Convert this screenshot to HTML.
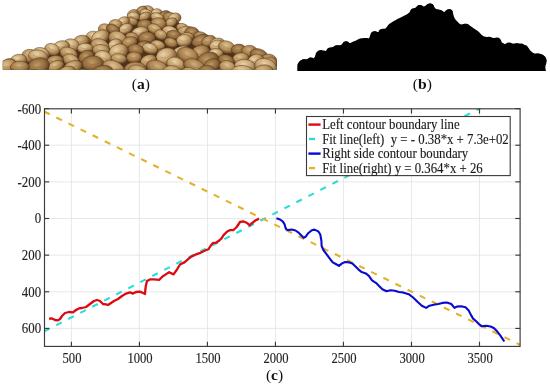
<!DOCTYPE html>
<html><head><meta charset="utf-8"><title>Walnut pile contour</title>
<style>html,body{margin:0;padding:0;background:#fff;width:550px;height:387px;overflow:hidden}svg{display:block}</style>
</head><body>
<svg width="550" height="387" viewBox="0 0 550 387">
<defs>
<clipPath id="wclip"><rect x="2.5" y="0" width="274.5" height="69.8"/></clipPath>
<radialGradient id="wn" cx="0.42" cy="0.34" r="0.66"><stop offset="0" stop-color="#dcc190"/><stop offset="0.55" stop-color="#b8915c"/><stop offset="1" stop-color="#664624"/></radialGradient>
<radialGradient id="wn2" cx="0.45" cy="0.36" r="0.66"><stop offset="0" stop-color="#cfae7c"/><stop offset="0.55" stop-color="#a87f4c"/><stop offset="1" stop-color="#57391c"/></radialGradient>
<radialGradient id="wn4" cx="0.45" cy="0.4" r="0.66"><stop offset="0" stop-color="#bf9a66"/><stop offset="0.55" stop-color="#946c3e"/><stop offset="1" stop-color="#4a3016"/></radialGradient>
<radialGradient id="wn3" cx="0.4" cy="0.32" r="0.66"><stop offset="0" stop-color="#e8d2a6"/><stop offset="0.55" stop-color="#c6a26e"/><stop offset="1" stop-color="#76542e"/></radialGradient>
</defs>
<g clip-path="url(#wclip)">
<polygon points="2.5,72.5 3.0,65.5 7.0,63.0 12.7,61.5 18.0,58.0 23.6,55.2 30.0,53.0 38.2,51.5 47.3,49.8 54.5,45.8 62.0,44.0 70.9,42.5 78.0,40.0 85.5,37.0 94.5,34.3 100.9,29.8 107.0,26.0 113.6,23.4 124.5,19.8 130.0,14.3 139.1,9.8 148.2,8.9 153.6,10.7 162.7,14.3 170.0,13.4 175.5,17.0 180.9,26.1 189.1,28.9 198.2,33.4 205.5,38.0 214.5,40.7 223.6,42.5 232.7,48.0 241.8,47.0 254.5,49.8 265.5,56.1 272.7,58.9 276.4,65.2 276.6,72.5" fill="#4e321c"/>
<g transform="translate(147.9 10.3) rotate(10)"><ellipse rx="6.0" ry="4.6" fill="url(#wn)" stroke="#4a2f18" stroke-opacity="0.6" stroke-width="0.7"/><path d="M-3.3,-0.7 Q-0.6,1.6 3.0,-0.2" fill="none" stroke="#7a5430" stroke-opacity="0.35" stroke-width="0.6"/></g>
<g transform="translate(141.6 10.4) rotate(-24)"><ellipse rx="5.7" ry="4.0" fill="url(#wn2)" stroke="#4a2f18" stroke-opacity="0.6" stroke-width="0.7"/><path d="M-3.2,-0.6 Q-0.6,1.4 2.9,-0.2" fill="none" stroke="#7a5430" stroke-opacity="0.35" stroke-width="0.6"/></g>
<g transform="translate(156.6 12.9) rotate(-7)"><ellipse rx="5.6" ry="4.2" fill="url(#wn3)" stroke="#4a2f18" stroke-opacity="0.6" stroke-width="0.7"/><path d="M-3.1,-0.6 Q-0.6,1.5 2.8,-0.2" fill="none" stroke="#7a5430" stroke-opacity="0.35" stroke-width="0.6"/></g>
<g transform="translate(132.9 13.7) rotate(-20)"><ellipse rx="5.7" ry="3.9" fill="url(#wn)" stroke="#4a2f18" stroke-opacity="0.6" stroke-width="0.7"/><path d="M-3.1,-0.6 Q-0.6,1.4 2.9,-0.2" fill="none" stroke="#7a5430" stroke-opacity="0.35" stroke-width="0.6"/></g>
<g transform="translate(146.1 13.9) rotate(21)"><ellipse rx="6.5" ry="4.7" fill="url(#wn3)" stroke="#4a2f18" stroke-opacity="0.6" stroke-width="0.7"/><path d="M-3.6,-0.7 Q-0.6,1.6 3.2,-0.2" fill="none" stroke="#7a5430" stroke-opacity="0.35" stroke-width="0.6"/></g>
<g transform="translate(164.8 15.9) rotate(-22)"><ellipse rx="6.5" ry="5.1" fill="url(#wn4)" stroke="#4a2f18" stroke-opacity="0.6" stroke-width="0.7"/><path d="M-3.6,-0.8 Q-0.6,1.8 3.2,-0.3" fill="none" stroke="#7a5430" stroke-opacity="0.35" stroke-width="0.6"/></g>
<g transform="translate(144.7 16.4) rotate(-24)"><ellipse rx="6.4" ry="4.0" fill="url(#wn)" stroke="#4a2f18" stroke-opacity="0.6" stroke-width="0.7"/><path d="M-3.5,-0.6 Q-0.6,1.4 3.2,-0.2" fill="none" stroke="#7a5430" stroke-opacity="0.35" stroke-width="0.6"/></g>
<g transform="translate(133.4 16.6) rotate(0)"><ellipse rx="6.3" ry="4.7" fill="url(#wn3)" stroke="#4a2f18" stroke-opacity="0.6" stroke-width="0.7"/><path d="M-3.4,-0.7 Q-0.6,1.7 3.1,-0.2" fill="none" stroke="#7a5430" stroke-opacity="0.35" stroke-width="0.6"/></g>
<g transform="translate(157.4 17.7) rotate(22)"><ellipse rx="7.0" ry="4.6" fill="url(#wn3)" stroke="#4a2f18" stroke-opacity="0.6" stroke-width="0.7"/><path d="M-3.8,-0.7 Q-0.7,1.6 3.5,-0.2" fill="none" stroke="#7a5430" stroke-opacity="0.35" stroke-width="0.6"/></g>
<g transform="translate(170.5 17.9) rotate(17)"><ellipse rx="7.7" ry="5.4" fill="url(#wn2)" stroke="#4a2f18" stroke-opacity="0.6" stroke-width="0.7"/><path d="M-4.3,-0.8 Q-0.8,1.9 3.9,-0.3" fill="none" stroke="#7a5430" stroke-opacity="0.35" stroke-width="0.6"/></g>
<g transform="translate(174.5 18.4) rotate(-20)"><ellipse rx="6.7" ry="5.3" fill="url(#wn3)" stroke="#4a2f18" stroke-opacity="0.6" stroke-width="0.7"/><path d="M-3.7,-0.8 Q-0.7,1.9 3.4,-0.3" fill="none" stroke="#7a5430" stroke-opacity="0.35" stroke-width="0.6"/></g>
<g transform="translate(131.8 21.4) rotate(17)"><ellipse rx="6.1" ry="4.2" fill="url(#wn2)" stroke="#4a2f18" stroke-opacity="0.6" stroke-width="0.7"/><path d="M-3.3,-0.6 Q-0.6,1.5 3.0,-0.2" fill="none" stroke="#7a5430" stroke-opacity="0.35" stroke-width="0.6"/></g>
<g transform="translate(123.5 21.6) rotate(-21)"><ellipse rx="6.2" ry="4.7" fill="url(#wn3)" stroke="#4a2f18" stroke-opacity="0.6" stroke-width="0.7"/><path d="M-3.4,-0.7 Q-0.6,1.6 3.1,-0.2" fill="none" stroke="#7a5430" stroke-opacity="0.35" stroke-width="0.6"/></g>
<g transform="translate(171.4 22.3) rotate(-21)"><ellipse rx="5.9" ry="4.4" fill="url(#wn)" stroke="#4a2f18" stroke-opacity="0.6" stroke-width="0.7"/><path d="M-3.2,-0.7 Q-0.6,1.5 2.9,-0.2" fill="none" stroke="#7a5430" stroke-opacity="0.35" stroke-width="0.6"/></g>
<g transform="translate(158.4 23.8) rotate(2)"><ellipse rx="8.1" ry="6.1" fill="url(#wn2)" stroke="#4a2f18" stroke-opacity="0.6" stroke-width="0.7"/><path d="M-4.5,-0.9 Q-0.8,2.1 4.0,-0.3" fill="none" stroke="#7a5430" stroke-opacity="0.35" stroke-width="0.6"/></g>
<g transform="translate(115.5 24.6) rotate(4)"><ellipse rx="6.6" ry="5.1" fill="url(#wn)" stroke="#4a2f18" stroke-opacity="0.6" stroke-width="0.7"/><path d="M-3.6,-0.8 Q-0.7,1.8 3.3,-0.3" fill="none" stroke="#7a5430" stroke-opacity="0.35" stroke-width="0.6"/></g>
<g transform="translate(144.6 24.9) rotate(-1)"><ellipse rx="7.6" ry="5.6" fill="url(#wn4)" stroke="#4a2f18" stroke-opacity="0.6" stroke-width="0.7"/><path d="M-4.2,-0.8 Q-0.8,1.9 3.8,-0.3" fill="none" stroke="#7a5430" stroke-opacity="0.35" stroke-width="0.6"/></g>
<g transform="translate(182.5 27.9) rotate(17)"><ellipse rx="6.4" ry="4.4" fill="url(#wn)" stroke="#4a2f18" stroke-opacity="0.6" stroke-width="0.7"/><path d="M-3.5,-0.7 Q-0.6,1.5 3.2,-0.2" fill="none" stroke="#7a5430" stroke-opacity="0.35" stroke-width="0.6"/></g>
<g transform="translate(125.9 28.6) rotate(-23)"><ellipse rx="7.1" ry="5.0" fill="url(#wn3)" stroke="#4a2f18" stroke-opacity="0.6" stroke-width="0.7"/><path d="M-3.9,-0.7 Q-0.7,1.7 3.6,-0.2" fill="none" stroke="#7a5430" stroke-opacity="0.35" stroke-width="0.6"/></g>
<g transform="translate(105.2 29.2) rotate(10)"><ellipse rx="6.9" ry="5.4" fill="url(#wn)" stroke="#4a2f18" stroke-opacity="0.6" stroke-width="0.7"/><path d="M-3.8,-0.8 Q-0.7,1.9 3.4,-0.3" fill="none" stroke="#7a5430" stroke-opacity="0.35" stroke-width="0.6"/></g>
<g transform="translate(154.6 29.2) rotate(23)"><ellipse rx="7.6" ry="5.0" fill="url(#wn)" stroke="#4a2f18" stroke-opacity="0.6" stroke-width="0.7"/><path d="M-4.2,-0.7 Q-0.8,1.7 3.8,-0.2" fill="none" stroke="#7a5430" stroke-opacity="0.35" stroke-width="0.6"/></g>
<g transform="translate(112.8 29.3) rotate(25)"><ellipse rx="6.9" ry="4.7" fill="url(#wn4)" stroke="#4a2f18" stroke-opacity="0.6" stroke-width="0.7"/><path d="M-3.8,-0.7 Q-0.7,1.7 3.5,-0.2" fill="none" stroke="#7a5430" stroke-opacity="0.35" stroke-width="0.6"/></g>
<g transform="translate(185.9 31.4) rotate(-2)"><ellipse rx="8.3" ry="5.2" fill="url(#wn)" stroke="#4a2f18" stroke-opacity="0.6" stroke-width="0.7"/><path d="M-4.6,-0.8 Q-0.8,1.8 4.1,-0.3" fill="none" stroke="#7a5430" stroke-opacity="0.35" stroke-width="0.6"/></g>
<g transform="translate(170.3 32.5) rotate(22)"><ellipse rx="8.6" ry="6.3" fill="url(#wn3)" stroke="#4a2f18" stroke-opacity="0.6" stroke-width="0.7"/><path d="M-4.7,-0.9 Q-0.9,2.2 4.3,-0.3" fill="none" stroke="#7a5430" stroke-opacity="0.35" stroke-width="0.6"/></g>
<g transform="translate(191.9 32.6) rotate(7)"><ellipse rx="7.3" ry="5.7" fill="url(#wn4)" stroke="#4a2f18" stroke-opacity="0.6" stroke-width="0.7"/><path d="M-4.0,-0.8 Q-0.7,2.0 3.6,-0.3" fill="none" stroke="#7a5430" stroke-opacity="0.35" stroke-width="0.6"/></g>
<g transform="translate(140.1 32.6) rotate(-13)"><ellipse rx="8.7" ry="5.8" fill="url(#wn3)" stroke="#4a2f18" stroke-opacity="0.6" stroke-width="0.7"/><path d="M-4.8,-0.9 Q-0.9,2.0 4.3,-0.3" fill="none" stroke="#7a5430" stroke-opacity="0.35" stroke-width="0.6"/></g>
<g transform="translate(160.8 34.9) rotate(21)"><ellipse rx="6.4" ry="4.9" fill="url(#wn)" stroke="#4a2f18" stroke-opacity="0.6" stroke-width="0.7"/><path d="M-3.5,-0.7 Q-0.6,1.7 3.2,-0.2" fill="none" stroke="#7a5430" stroke-opacity="0.35" stroke-width="0.6"/></g>
<g transform="translate(173.8 35.0) rotate(7)"><ellipse rx="7.3" ry="4.7" fill="url(#wn4)" stroke="#4a2f18" stroke-opacity="0.6" stroke-width="0.7"/><path d="M-4.0,-0.7 Q-0.7,1.7 3.7,-0.2" fill="none" stroke="#7a5430" stroke-opacity="0.35" stroke-width="0.6"/></g>
<g transform="translate(200.7 36.5) rotate(13)"><ellipse rx="6.9" ry="4.7" fill="url(#wn2)" stroke="#4a2f18" stroke-opacity="0.6" stroke-width="0.7"/><path d="M-3.8,-0.7 Q-0.7,1.7 3.4,-0.2" fill="none" stroke="#7a5430" stroke-opacity="0.35" stroke-width="0.6"/></g>
<g transform="translate(131.9 36.7) rotate(9)"><ellipse rx="6.7" ry="4.3" fill="url(#wn2)" stroke="#4a2f18" stroke-opacity="0.6" stroke-width="0.7"/><path d="M-3.7,-0.6 Q-0.7,1.5 3.3,-0.2" fill="none" stroke="#7a5430" stroke-opacity="0.35" stroke-width="0.6"/></g>
<g transform="translate(187.1 36.7) rotate(4)"><ellipse rx="6.7" ry="4.2" fill="url(#wn)" stroke="#4a2f18" stroke-opacity="0.6" stroke-width="0.7"/><path d="M-3.7,-0.6 Q-0.7,1.5 3.3,-0.2" fill="none" stroke="#7a5430" stroke-opacity="0.35" stroke-width="0.6"/></g>
<g transform="translate(93.6 36.9) rotate(8)"><ellipse rx="7.5" ry="5.7" fill="url(#wn3)" stroke="#4a2f18" stroke-opacity="0.6" stroke-width="0.7"/><path d="M-4.1,-0.9 Q-0.8,2.0 3.8,-0.3" fill="none" stroke="#7a5430" stroke-opacity="0.35" stroke-width="0.6"/></g>
<g transform="translate(100.5 37.0) rotate(-25)"><ellipse rx="9.3" ry="6.6" fill="url(#wn3)" stroke="#4a2f18" stroke-opacity="0.6" stroke-width="0.7"/><path d="M-5.1,-1.0 Q-0.9,2.3 4.7,-0.3" fill="none" stroke="#7a5430" stroke-opacity="0.35" stroke-width="0.6"/></g>
<g transform="translate(146.9 38.1) rotate(-2)"><ellipse rx="8.7" ry="6.4" fill="url(#wn4)" stroke="#4a2f18" stroke-opacity="0.6" stroke-width="0.7"/><path d="M-4.8,-1.0 Q-0.9,2.3 4.4,-0.3" fill="none" stroke="#7a5430" stroke-opacity="0.35" stroke-width="0.6"/></g>
<g transform="translate(117.6 38.7) rotate(24)"><ellipse rx="9.4" ry="7.3" fill="url(#wn)" stroke="#4a2f18" stroke-opacity="0.6" stroke-width="0.7"/><path d="M-5.2,-1.1 Q-0.9,2.5 4.7,-0.4" fill="none" stroke="#7a5430" stroke-opacity="0.35" stroke-width="0.6"/></g>
<g transform="translate(184.2 40.6) rotate(-4)"><ellipse rx="7.9" ry="6.2" fill="url(#wn3)" stroke="#4a2f18" stroke-opacity="0.6" stroke-width="0.7"/><path d="M-4.4,-0.9 Q-0.8,2.2 4.0,-0.3" fill="none" stroke="#7a5430" stroke-opacity="0.35" stroke-width="0.6"/></g>
<g transform="translate(200.8 40.6) rotate(-22)"><ellipse rx="9.4" ry="5.9" fill="url(#wn4)" stroke="#4a2f18" stroke-opacity="0.6" stroke-width="0.7"/><path d="M-5.2,-0.9 Q-0.9,2.1 4.7,-0.3" fill="none" stroke="#7a5430" stroke-opacity="0.35" stroke-width="0.6"/></g>
<g transform="translate(83.4 40.8) rotate(-5)"><ellipse rx="7.2" ry="4.5" fill="url(#wn)" stroke="#4a2f18" stroke-opacity="0.6" stroke-width="0.7"/><path d="M-3.9,-0.7 Q-0.7,1.6 3.6,-0.2" fill="none" stroke="#7a5430" stroke-opacity="0.35" stroke-width="0.6"/></g>
<g transform="translate(208.8 41.1) rotate(-24)"><ellipse rx="7.4" ry="5.4" fill="url(#wn2)" stroke="#4a2f18" stroke-opacity="0.6" stroke-width="0.7"/><path d="M-4.0,-0.8 Q-0.7,1.9 3.7,-0.3" fill="none" stroke="#7a5430" stroke-opacity="0.35" stroke-width="0.6"/></g>
<g transform="translate(81.3 41.1) rotate(-13)"><ellipse rx="8.1" ry="5.8" fill="url(#wn)" stroke="#4a2f18" stroke-opacity="0.6" stroke-width="0.7"/><path d="M-4.4,-0.9 Q-0.8,2.0 4.0,-0.3" fill="none" stroke="#7a5430" stroke-opacity="0.35" stroke-width="0.6"/></g>
<g transform="translate(129.6 42.4) rotate(-17)"><ellipse rx="8.0" ry="5.5" fill="url(#wn2)" stroke="#4a2f18" stroke-opacity="0.6" stroke-width="0.7"/><path d="M-4.4,-0.8 Q-0.8,1.9 4.0,-0.3" fill="none" stroke="#7a5430" stroke-opacity="0.35" stroke-width="0.6"/></g>
<g transform="translate(170.8 42.7) rotate(21)"><ellipse rx="6.8" ry="4.8" fill="url(#wn2)" stroke="#4a2f18" stroke-opacity="0.6" stroke-width="0.7"/><path d="M-3.8,-0.7 Q-0.7,1.7 3.4,-0.2" fill="none" stroke="#7a5430" stroke-opacity="0.35" stroke-width="0.6"/></g>
<g transform="translate(217.7 43.7) rotate(-7)"><ellipse rx="7.4" ry="5.7" fill="url(#wn3)" stroke="#4a2f18" stroke-opacity="0.6" stroke-width="0.7"/><path d="M-4.1,-0.9 Q-0.7,2.0 3.7,-0.3" fill="none" stroke="#7a5430" stroke-opacity="0.35" stroke-width="0.6"/></g>
<g transform="translate(115.1 44.9) rotate(-23)"><ellipse rx="7.3" ry="5.8" fill="url(#wn3)" stroke="#4a2f18" stroke-opacity="0.6" stroke-width="0.7"/><path d="M-4.0,-0.9 Q-0.7,2.0 3.7,-0.3" fill="none" stroke="#7a5430" stroke-opacity="0.35" stroke-width="0.6"/></g>
<g transform="translate(71.3 45.3) rotate(12)"><ellipse rx="8.1" ry="6.4" fill="url(#wn3)" stroke="#4a2f18" stroke-opacity="0.6" stroke-width="0.7"/><path d="M-4.5,-1.0 Q-0.8,2.3 4.1,-0.3" fill="none" stroke="#7a5430" stroke-opacity="0.35" stroke-width="0.6"/></g>
<g transform="translate(157.8 45.3) rotate(16)"><ellipse rx="7.4" ry="5.1" fill="url(#wn)" stroke="#4a2f18" stroke-opacity="0.6" stroke-width="0.7"/><path d="M-4.1,-0.8 Q-0.7,1.8 3.7,-0.3" fill="none" stroke="#7a5430" stroke-opacity="0.35" stroke-width="0.6"/></g>
<g transform="translate(217.1 45.8) rotate(-8)"><ellipse rx="7.6" ry="5.7" fill="url(#wn3)" stroke="#4a2f18" stroke-opacity="0.6" stroke-width="0.7"/><path d="M-4.2,-0.9 Q-0.8,2.0 3.8,-0.3" fill="none" stroke="#7a5430" stroke-opacity="0.35" stroke-width="0.6"/></g>
<g transform="translate(143.2 46.2) rotate(-19)"><ellipse rx="7.6" ry="5.2" fill="url(#wn4)" stroke="#4a2f18" stroke-opacity="0.6" stroke-width="0.7"/><path d="M-4.2,-0.8 Q-0.8,1.8 3.8,-0.3" fill="none" stroke="#7a5430" stroke-opacity="0.35" stroke-width="0.6"/></g>
<g transform="translate(99.8 46.4) rotate(22)"><ellipse rx="9.8" ry="7.4" fill="url(#wn)" stroke="#4a2f18" stroke-opacity="0.6" stroke-width="0.7"/><path d="M-5.4,-1.1 Q-1.0,2.6 4.9,-0.4" fill="none" stroke="#7a5430" stroke-opacity="0.35" stroke-width="0.6"/></g>
<g transform="translate(61.3 46.5) rotate(-12)"><ellipse rx="8.4" ry="5.7" fill="url(#wn3)" stroke="#4a2f18" stroke-opacity="0.6" stroke-width="0.7"/><path d="M-4.6,-0.9 Q-0.8,2.0 4.2,-0.3" fill="none" stroke="#7a5430" stroke-opacity="0.35" stroke-width="0.6"/></g>
<g transform="translate(226.8 47.3) rotate(18)"><ellipse rx="8.5" ry="6.3" fill="url(#wn)" stroke="#4a2f18" stroke-opacity="0.6" stroke-width="0.7"/><path d="M-4.7,-0.9 Q-0.9,2.2 4.3,-0.3" fill="none" stroke="#7a5430" stroke-opacity="0.35" stroke-width="0.6"/></g>
<g transform="translate(85.2 48.3) rotate(-0)"><ellipse rx="8.0" ry="5.1" fill="url(#wn3)" stroke="#4a2f18" stroke-opacity="0.6" stroke-width="0.7"/><path d="M-4.4,-0.8 Q-0.8,1.8 4.0,-0.3" fill="none" stroke="#7a5430" stroke-opacity="0.35" stroke-width="0.6"/></g>
<g transform="translate(150.0 48.6) rotate(19)"><ellipse rx="7.9" ry="5.3" fill="url(#wn3)" stroke="#4a2f18" stroke-opacity="0.6" stroke-width="0.7"/><path d="M-4.4,-0.8 Q-0.8,1.8 4.0,-0.3" fill="none" stroke="#7a5430" stroke-opacity="0.35" stroke-width="0.6"/></g>
<g transform="translate(238.6 49.5) rotate(-3)"><ellipse rx="7.4" ry="5.4" fill="url(#wn4)" stroke="#4a2f18" stroke-opacity="0.6" stroke-width="0.7"/><path d="M-4.1,-0.8 Q-0.7,1.9 3.7,-0.3" fill="none" stroke="#7a5430" stroke-opacity="0.35" stroke-width="0.6"/></g>
<g transform="translate(52.1 49.6) rotate(23)"><ellipse rx="7.7" ry="5.9" fill="url(#wn3)" stroke="#4a2f18" stroke-opacity="0.6" stroke-width="0.7"/><path d="M-4.3,-0.9 Q-0.8,2.1 3.9,-0.3" fill="none" stroke="#7a5430" stroke-opacity="0.35" stroke-width="0.6"/></g>
<g transform="translate(135.7 49.9) rotate(12)"><ellipse rx="8.1" ry="5.9" fill="url(#wn4)" stroke="#4a2f18" stroke-opacity="0.6" stroke-width="0.7"/><path d="M-4.5,-0.9 Q-0.8,2.1 4.1,-0.3" fill="none" stroke="#7a5430" stroke-opacity="0.35" stroke-width="0.6"/></g>
<g transform="translate(101.1 50.2) rotate(6)"><ellipse rx="8.7" ry="5.8" fill="url(#wn)" stroke="#4a2f18" stroke-opacity="0.6" stroke-width="0.7"/><path d="M-4.8,-0.9 Q-0.9,2.0 4.3,-0.3" fill="none" stroke="#7a5430" stroke-opacity="0.35" stroke-width="0.6"/></g>
<g transform="translate(249.4 51.3) rotate(2)"><ellipse rx="7.9" ry="6.1" fill="url(#wn2)" stroke="#4a2f18" stroke-opacity="0.6" stroke-width="0.7"/><path d="M-4.4,-0.9 Q-0.8,2.1 4.0,-0.3" fill="none" stroke="#7a5430" stroke-opacity="0.35" stroke-width="0.6"/></g>
<g transform="translate(118.6 51.7) rotate(-19)"><ellipse rx="9.8" ry="7.6" fill="url(#wn3)" stroke="#4a2f18" stroke-opacity="0.6" stroke-width="0.7"/><path d="M-5.4,-1.1 Q-1.0,2.7 4.9,-0.4" fill="none" stroke="#7a5430" stroke-opacity="0.35" stroke-width="0.6"/></g>
<g transform="translate(200.3 53.2) rotate(-23)"><ellipse rx="10.1" ry="7.8" fill="url(#wn2)" stroke="#4a2f18" stroke-opacity="0.6" stroke-width="0.7"/><path d="M-5.5,-1.2 Q-1.0,2.7 5.0,-0.4" fill="none" stroke="#7a5430" stroke-opacity="0.35" stroke-width="0.6"/></g>
<g transform="translate(215.9 53.5) rotate(4)"><ellipse rx="7.5" ry="4.9" fill="url(#wn3)" stroke="#4a2f18" stroke-opacity="0.6" stroke-width="0.7"/><path d="M-4.1,-0.7 Q-0.7,1.7 3.7,-0.2" fill="none" stroke="#7a5430" stroke-opacity="0.35" stroke-width="0.6"/></g>
<g transform="translate(68.6 53.6) rotate(19)"><ellipse rx="9.1" ry="6.2" fill="url(#wn)" stroke="#4a2f18" stroke-opacity="0.6" stroke-width="0.7"/><path d="M-5.0,-0.9 Q-0.9,2.2 4.5,-0.3" fill="none" stroke="#7a5430" stroke-opacity="0.35" stroke-width="0.6"/></g>
<g transform="translate(181.7 53.6) rotate(-20)"><ellipse rx="10.0" ry="7.4" fill="url(#wn3)" stroke="#4a2f18" stroke-opacity="0.6" stroke-width="0.7"/><path d="M-5.5,-1.1 Q-1.0,2.6 5.0,-0.4" fill="none" stroke="#7a5430" stroke-opacity="0.35" stroke-width="0.6"/></g>
<g transform="translate(165.1 53.6) rotate(0)"><ellipse rx="8.2" ry="5.7" fill="url(#wn4)" stroke="#4a2f18" stroke-opacity="0.6" stroke-width="0.7"/><path d="M-4.5,-0.9 Q-0.8,2.0 4.1,-0.3" fill="none" stroke="#7a5430" stroke-opacity="0.35" stroke-width="0.6"/></g>
<g transform="translate(41.0 53.7) rotate(14)"><ellipse rx="8.4" ry="6.1" fill="url(#wn3)" stroke="#4a2f18" stroke-opacity="0.6" stroke-width="0.7"/><path d="M-4.6,-0.9 Q-0.8,2.1 4.2,-0.3" fill="none" stroke="#7a5430" stroke-opacity="0.35" stroke-width="0.6"/></g>
<g transform="translate(258.8 55.0) rotate(16)"><ellipse rx="8.9" ry="6.1" fill="url(#wn4)" stroke="#4a2f18" stroke-opacity="0.6" stroke-width="0.7"/><path d="M-4.9,-0.9 Q-0.9,2.1 4.4,-0.3" fill="none" stroke="#7a5430" stroke-opacity="0.35" stroke-width="0.6"/></g>
<g transform="translate(187.6 55.7) rotate(21)"><ellipse rx="11.2" ry="7.9" fill="url(#wn2)" stroke="#4a2f18" stroke-opacity="0.6" stroke-width="0.7"/><path d="M-6.2,-1.2 Q-1.1,2.8 5.6,-0.4" fill="none" stroke="#7a5430" stroke-opacity="0.35" stroke-width="0.6"/></g>
<g transform="translate(30.5 56.2) rotate(11)"><ellipse rx="8.7" ry="6.8" fill="url(#wn)" stroke="#4a2f18" stroke-opacity="0.6" stroke-width="0.7"/><path d="M-4.8,-1.0 Q-0.9,2.4 4.3,-0.3" fill="none" stroke="#7a5430" stroke-opacity="0.35" stroke-width="0.6"/></g>
<g transform="translate(38.2 56.3) rotate(10)"><ellipse rx="9.9" ry="6.3" fill="url(#wn3)" stroke="#4a2f18" stroke-opacity="0.6" stroke-width="0.7"/><path d="M-5.5,-0.9 Q-1.0,2.2 5.0,-0.3" fill="none" stroke="#7a5430" stroke-opacity="0.35" stroke-width="0.6"/></g>
<g transform="translate(166.4 56.5) rotate(-19)"><ellipse rx="10.6" ry="8.4" fill="url(#wn3)" stroke="#4a2f18" stroke-opacity="0.6" stroke-width="0.7"/><path d="M-5.8,-1.3 Q-1.1,2.9 5.3,-0.4" fill="none" stroke="#7a5430" stroke-opacity="0.35" stroke-width="0.6"/></g>
<g transform="translate(86.5 56.6) rotate(-25)"><ellipse rx="8.2" ry="6.1" fill="url(#wn4)" stroke="#4a2f18" stroke-opacity="0.6" stroke-width="0.7"/><path d="M-4.5,-0.9 Q-0.8,2.1 4.1,-0.3" fill="none" stroke="#7a5430" stroke-opacity="0.35" stroke-width="0.6"/></g>
<g transform="translate(134.1 57.6) rotate(0)"><ellipse rx="7.7" ry="5.7" fill="url(#wn2)" stroke="#4a2f18" stroke-opacity="0.6" stroke-width="0.7"/><path d="M-4.3,-0.9 Q-0.8,2.0 3.9,-0.3" fill="none" stroke="#7a5430" stroke-opacity="0.35" stroke-width="0.6"/></g>
<g transform="translate(103.2 57.8) rotate(19)"><ellipse rx="9.1" ry="7.0" fill="url(#wn3)" stroke="#4a2f18" stroke-opacity="0.6" stroke-width="0.7"/><path d="M-5.0,-1.0 Q-0.9,2.4 4.5,-0.3" fill="none" stroke="#7a5430" stroke-opacity="0.35" stroke-width="0.6"/></g>
<g transform="translate(240.9 58.5) rotate(-6)"><ellipse rx="8.3" ry="5.7" fill="url(#wn)" stroke="#4a2f18" stroke-opacity="0.6" stroke-width="0.7"/><path d="M-4.5,-0.9 Q-0.8,2.0 4.1,-0.3" fill="none" stroke="#7a5430" stroke-opacity="0.35" stroke-width="0.6"/></g>
<g transform="translate(118.9 58.7) rotate(7)"><ellipse rx="8.0" ry="5.0" fill="url(#wn)" stroke="#4a2f18" stroke-opacity="0.6" stroke-width="0.7"/><path d="M-4.4,-0.8 Q-0.8,1.8 4.0,-0.3" fill="none" stroke="#7a5430" stroke-opacity="0.35" stroke-width="0.6"/></g>
<g transform="translate(269.1 59.7) rotate(13)"><ellipse rx="7.9" ry="5.6" fill="url(#wn2)" stroke="#4a2f18" stroke-opacity="0.6" stroke-width="0.7"/><path d="M-4.4,-0.8 Q-0.8,2.0 4.0,-0.3" fill="none" stroke="#7a5430" stroke-opacity="0.35" stroke-width="0.6"/></g>
<g transform="translate(18.6 60.0) rotate(-8)"><ellipse rx="8.3" ry="5.7" fill="url(#wn3)" stroke="#4a2f18" stroke-opacity="0.6" stroke-width="0.7"/><path d="M-4.6,-0.9 Q-0.8,2.0 4.1,-0.3" fill="none" stroke="#7a5430" stroke-opacity="0.35" stroke-width="0.6"/></g>
<g transform="translate(207.9 60.3) rotate(-17)"><ellipse rx="11.0" ry="8.0" fill="url(#wn4)" stroke="#4a2f18" stroke-opacity="0.6" stroke-width="0.7"/><path d="M-6.0,-1.2 Q-1.1,2.8 5.5,-0.4" fill="none" stroke="#7a5430" stroke-opacity="0.35" stroke-width="0.6"/></g>
<g transform="translate(226.1 60.4) rotate(16)"><ellipse rx="8.3" ry="5.7" fill="url(#wn4)" stroke="#4a2f18" stroke-opacity="0.6" stroke-width="0.7"/><path d="M-4.5,-0.9 Q-0.8,2.0 4.1,-0.3" fill="none" stroke="#7a5430" stroke-opacity="0.35" stroke-width="0.6"/></g>
<g transform="translate(71.1 60.5) rotate(25)"><ellipse rx="8.8" ry="6.1" fill="url(#wn)" stroke="#4a2f18" stroke-opacity="0.6" stroke-width="0.7"/><path d="M-4.8,-0.9 Q-0.9,2.1 4.4,-0.3" fill="none" stroke="#7a5430" stroke-opacity="0.35" stroke-width="0.6"/></g>
<g transform="translate(255.6 60.7) rotate(-23)"><ellipse rx="8.4" ry="6.3" fill="url(#wn3)" stroke="#4a2f18" stroke-opacity="0.6" stroke-width="0.7"/><path d="M-4.6,-0.9 Q-0.8,2.2 4.2,-0.3" fill="none" stroke="#7a5430" stroke-opacity="0.35" stroke-width="0.6"/></g>
<g transform="translate(148.6 60.9) rotate(-20)"><ellipse rx="8.5" ry="6.1" fill="url(#wn)" stroke="#4a2f18" stroke-opacity="0.6" stroke-width="0.7"/><path d="M-4.7,-0.9 Q-0.9,2.1 4.3,-0.3" fill="none" stroke="#7a5430" stroke-opacity="0.35" stroke-width="0.6"/></g>
<g transform="translate(54.9 61.1) rotate(-9)"><ellipse rx="8.5" ry="5.7" fill="url(#wn2)" stroke="#4a2f18" stroke-opacity="0.6" stroke-width="0.7"/><path d="M-4.7,-0.9 Q-0.9,2.0 4.3,-0.3" fill="none" stroke="#7a5430" stroke-opacity="0.35" stroke-width="0.6"/></g>
<g transform="translate(270.2 63.5) rotate(0)"><ellipse rx="7.0" ry="6.6" fill="url(#wn2)" stroke="#4a2f18" stroke-opacity="0.6" stroke-width="0.7"/><path d="M-3.9,-1.0 Q-0.7,2.3 3.5,-0.3" fill="none" stroke="#7a5430" stroke-opacity="0.35" stroke-width="0.6"/></g>
<g transform="translate(92.8 63.7) rotate(0)"><ellipse rx="11.0" ry="7.9" fill="url(#wn4)" stroke="#4a2f18" stroke-opacity="0.6" stroke-width="0.7"/><path d="M-6.1,-1.2 Q-1.1,2.7 5.5,-0.4" fill="none" stroke="#7a5430" stroke-opacity="0.35" stroke-width="0.6"/></g>
<g transform="translate(175.7 64.4) rotate(20)"><ellipse rx="9.3" ry="7.0" fill="url(#wn3)" stroke="#4a2f18" stroke-opacity="0.6" stroke-width="0.7"/><path d="M-5.1,-1.0 Q-0.9,2.4 4.6,-0.3" fill="none" stroke="#7a5430" stroke-opacity="0.35" stroke-width="0.6"/></g>
<g transform="translate(9.6 64.5) rotate(0)"><ellipse rx="7.0" ry="6.0" fill="url(#wn)" stroke="#4a2f18" stroke-opacity="0.6" stroke-width="0.7"/><path d="M-3.9,-0.9 Q-0.7,2.1 3.5,-0.3" fill="none" stroke="#7a5430" stroke-opacity="0.35" stroke-width="0.6"/></g>
<g transform="translate(212.0 65.3) rotate(-23)"><ellipse rx="8.9" ry="6.3" fill="url(#wn4)" stroke="#4a2f18" stroke-opacity="0.6" stroke-width="0.7"/><path d="M-4.9,-0.9 Q-0.9,2.2 4.4,-0.3" fill="none" stroke="#7a5430" stroke-opacity="0.35" stroke-width="0.6"/></g>
<g transform="translate(56.1 66.0) rotate(-20)"><ellipse rx="8.2" ry="5.3" fill="url(#wn)" stroke="#4a2f18" stroke-opacity="0.6" stroke-width="0.7"/><path d="M-4.5,-0.8 Q-0.8,1.9 4.1,-0.3" fill="none" stroke="#7a5430" stroke-opacity="0.35" stroke-width="0.6"/></g>
<g transform="translate(8.0 66.1) rotate(-14)"><ellipse rx="9.3" ry="6.9" fill="url(#wn)" stroke="#4a2f18" stroke-opacity="0.6" stroke-width="0.7"/><path d="M-5.1,-1.0 Q-0.9,2.4 4.7,-0.3" fill="none" stroke="#7a5430" stroke-opacity="0.35" stroke-width="0.6"/></g>
<g transform="translate(38.6 66.2) rotate(-16)"><ellipse rx="11.0" ry="8.3" fill="url(#wn4)" stroke="#4a2f18" stroke-opacity="0.6" stroke-width="0.7"/><path d="M-6.0,-1.3 Q-1.1,2.9 5.5,-0.4" fill="none" stroke="#7a5430" stroke-opacity="0.35" stroke-width="0.6"/></g>
<g transform="translate(194.3 66.4) rotate(21)"><ellipse rx="11.2" ry="7.2" fill="url(#wn2)" stroke="#4a2f18" stroke-opacity="0.6" stroke-width="0.7"/><path d="M-6.2,-1.1 Q-1.1,2.5 5.6,-0.4" fill="none" stroke="#7a5430" stroke-opacity="0.35" stroke-width="0.6"/></g>
<g transform="translate(245.2 66.6) rotate(7)"><ellipse rx="11.1" ry="7.1" fill="url(#wn3)" stroke="#4a2f18" stroke-opacity="0.6" stroke-width="0.7"/><path d="M-6.1,-1.1 Q-1.1,2.5 5.5,-0.4" fill="none" stroke="#7a5430" stroke-opacity="0.35" stroke-width="0.6"/></g>
<g transform="translate(265.7 66.9) rotate(19)"><ellipse rx="11.4" ry="8.2" fill="url(#wn3)" stroke="#4a2f18" stroke-opacity="0.6" stroke-width="0.7"/><path d="M-6.3,-1.2 Q-1.1,2.9 5.7,-0.4" fill="none" stroke="#7a5430" stroke-opacity="0.35" stroke-width="0.6"/></g>
<g transform="translate(19.9 67.1) rotate(-1)"><ellipse rx="9.6" ry="6.0" fill="url(#wn2)" stroke="#4a2f18" stroke-opacity="0.6" stroke-width="0.7"/><path d="M-5.3,-0.9 Q-1.0,2.1 4.8,-0.3" fill="none" stroke="#7a5430" stroke-opacity="0.35" stroke-width="0.6"/></g>
<g transform="translate(72.9 67.2) rotate(-21)"><ellipse rx="9.9" ry="6.2" fill="url(#wn)" stroke="#4a2f18" stroke-opacity="0.6" stroke-width="0.7"/><path d="M-5.5,-0.9 Q-1.0,2.2 5.0,-0.3" fill="none" stroke="#7a5430" stroke-opacity="0.35" stroke-width="0.6"/></g>
<g transform="translate(227.5 67.5) rotate(20)"><ellipse rx="8.5" ry="6.7" fill="url(#wn)" stroke="#4a2f18" stroke-opacity="0.6" stroke-width="0.7"/><path d="M-4.7,-1.0 Q-0.8,2.3 4.2,-0.3" fill="none" stroke="#7a5430" stroke-opacity="0.35" stroke-width="0.6"/></g>
<g transform="translate(157.5 68.2) rotate(22)"><ellipse rx="11.6" ry="7.5" fill="url(#wn2)" stroke="#4a2f18" stroke-opacity="0.6" stroke-width="0.7"/><path d="M-6.4,-1.1 Q-1.2,2.6 5.8,-0.4" fill="none" stroke="#7a5430" stroke-opacity="0.35" stroke-width="0.6"/></g>
<g transform="translate(113.7 68.6) rotate(25)"><ellipse rx="11.8" ry="7.6" fill="url(#wn)" stroke="#4a2f18" stroke-opacity="0.6" stroke-width="0.7"/><path d="M-6.5,-1.1 Q-1.2,2.7 5.9,-0.4" fill="none" stroke="#7a5430" stroke-opacity="0.35" stroke-width="0.6"/></g>
<g transform="translate(135.4 69.3) rotate(-0)"><ellipse rx="11.2" ry="7.3" fill="url(#wn2)" stroke="#4a2f18" stroke-opacity="0.6" stroke-width="0.7"/><path d="M-6.2,-1.1 Q-1.1,2.6 5.6,-0.4" fill="none" stroke="#7a5430" stroke-opacity="0.35" stroke-width="0.6"/></g>
<g transform="translate(102.6 72.0) rotate(-7)"><ellipse rx="10.6" ry="6.6" fill="url(#wn4)" stroke="#4a2f18" stroke-opacity="0.6" stroke-width="0.7"/><path d="M-5.8,-1.0 Q-1.1,2.3 5.3,-0.3" fill="none" stroke="#7a5430" stroke-opacity="0.35" stroke-width="0.6"/></g>
<g transform="translate(172.2 72.0) rotate(7)"><ellipse rx="9.6" ry="6.4" fill="url(#wn)" stroke="#4a2f18" stroke-opacity="0.6" stroke-width="0.7"/><path d="M-5.3,-1.0 Q-1.0,2.2 4.8,-0.3" fill="none" stroke="#7a5430" stroke-opacity="0.35" stroke-width="0.6"/></g>
<g transform="translate(66.5 72.1) rotate(-18)"><ellipse rx="9.2" ry="5.7" fill="url(#wn)" stroke="#4a2f18" stroke-opacity="0.6" stroke-width="0.7"/><path d="M-5.1,-0.9 Q-0.9,2.0 4.6,-0.3" fill="none" stroke="#7a5430" stroke-opacity="0.35" stroke-width="0.6"/></g>
<g transform="translate(207.1 72.2) rotate(2)"><ellipse rx="8.9" ry="7.0" fill="url(#wn4)" stroke="#4a2f18" stroke-opacity="0.6" stroke-width="0.7"/><path d="M-4.9,-1.0 Q-0.9,2.4 4.5,-0.3" fill="none" stroke="#7a5430" stroke-opacity="0.35" stroke-width="0.6"/></g>
<g transform="translate(138.1 72.7) rotate(22)"><ellipse rx="10.5" ry="7.4" fill="url(#wn)" stroke="#4a2f18" stroke-opacity="0.6" stroke-width="0.7"/><path d="M-5.8,-1.1 Q-1.0,2.6 5.2,-0.4" fill="none" stroke="#7a5430" stroke-opacity="0.35" stroke-width="0.6"/></g>
<g transform="translate(263.5 73.0) rotate(-10)"><ellipse rx="10.6" ry="8.1" fill="url(#wn)" stroke="#4a2f18" stroke-opacity="0.6" stroke-width="0.7"/><path d="M-5.8,-1.2 Q-1.1,2.8 5.3,-0.4" fill="none" stroke="#7a5430" stroke-opacity="0.35" stroke-width="0.6"/></g>
<g transform="translate(242.8 73.1) rotate(5)"><ellipse rx="11.8" ry="7.6" fill="url(#wn3)" stroke="#4a2f18" stroke-opacity="0.6" stroke-width="0.7"/><path d="M-6.5,-1.1 Q-1.2,2.7 5.9,-0.4" fill="none" stroke="#7a5430" stroke-opacity="0.35" stroke-width="0.6"/></g>
<g transform="translate(189.8 74.6) rotate(22)"><ellipse rx="9.3" ry="6.9" fill="url(#wn)" stroke="#4a2f18" stroke-opacity="0.6" stroke-width="0.7"/><path d="M-5.1,-1.0 Q-0.9,2.4 4.7,-0.3" fill="none" stroke="#7a5430" stroke-opacity="0.35" stroke-width="0.6"/></g>
<g transform="translate(120.1 75.4) rotate(4)"><ellipse rx="9.4" ry="6.2" fill="url(#wn)" stroke="#4a2f18" stroke-opacity="0.6" stroke-width="0.7"/><path d="M-5.2,-0.9 Q-0.9,2.2 4.7,-0.3" fill="none" stroke="#7a5430" stroke-opacity="0.35" stroke-width="0.6"/></g>
<g transform="translate(154.9 75.8) rotate(19)"><ellipse rx="8.5" ry="5.4" fill="url(#wn2)" stroke="#4a2f18" stroke-opacity="0.6" stroke-width="0.7"/><path d="M-4.7,-0.8 Q-0.9,1.9 4.3,-0.3" fill="none" stroke="#7a5430" stroke-opacity="0.35" stroke-width="0.6"/></g>
<g transform="translate(31.6 76.4) rotate(-23)"><ellipse rx="9.7" ry="6.3" fill="url(#wn4)" stroke="#4a2f18" stroke-opacity="0.6" stroke-width="0.7"/><path d="M-5.4,-1.0 Q-1.0,2.2 4.9,-0.3" fill="none" stroke="#7a5430" stroke-opacity="0.35" stroke-width="0.6"/></g>
<g transform="translate(223.4 76.6) rotate(-24)"><ellipse rx="8.9" ry="5.6" fill="url(#wn2)" stroke="#4a2f18" stroke-opacity="0.6" stroke-width="0.7"/><path d="M-4.9,-0.8 Q-0.9,2.0 4.4,-0.3" fill="none" stroke="#7a5430" stroke-opacity="0.35" stroke-width="0.6"/></g>
<g transform="translate(84.3 77.3) rotate(-18)"><ellipse rx="9.7" ry="6.9" fill="url(#wn3)" stroke="#4a2f18" stroke-opacity="0.6" stroke-width="0.7"/><path d="M-5.3,-1.0 Q-1.0,2.4 4.8,-0.3" fill="none" stroke="#7a5430" stroke-opacity="0.35" stroke-width="0.6"/></g>
<g transform="translate(49.5 77.8) rotate(4)"><ellipse rx="8.9" ry="6.6" fill="url(#wn2)" stroke="#4a2f18" stroke-opacity="0.6" stroke-width="0.7"/><path d="M-4.9,-1.0 Q-0.9,2.3 4.5,-0.3" fill="none" stroke="#7a5430" stroke-opacity="0.35" stroke-width="0.6"/></g>
</g>
<path d="M297.30,71.00 C297.32,70.00 297.28,66.27 297.40,65.00 C297.52,63.73 297.53,64.12 298.00,63.40 C298.47,62.68 299.35,61.33 300.20,60.70 C301.05,60.07 302.38,59.83 303.10,59.60 C303.82,59.37 303.77,59.40 304.50,59.30 C305.23,59.20 306.52,59.30 307.50,59.00 C308.48,58.70 309.40,57.62 310.40,57.50 C311.40,57.38 312.65,58.63 313.50,58.30 C314.35,57.97 314.88,56.47 315.50,55.50 C316.12,54.53 316.37,53.37 317.20,52.50 C318.03,51.63 319.37,50.62 320.50,50.30 C321.63,49.98 323.02,50.48 324.00,50.60 C324.98,50.72 325.60,51.33 326.40,51.00 C327.20,50.67 328.08,49.17 328.80,48.60 C329.52,48.03 329.92,47.90 330.70,47.60 C331.48,47.30 332.53,47.15 333.50,46.80 C334.47,46.45 335.50,45.77 336.50,45.50 C337.50,45.23 338.65,45.35 339.50,45.20 C340.35,45.05 340.93,45.07 341.60,44.60 C342.27,44.13 342.77,42.93 343.50,42.40 C344.23,41.87 345.17,41.42 346.00,41.40 C346.83,41.38 347.87,42.03 348.50,42.30 C349.13,42.57 349.22,43.02 349.80,43.00 C350.38,42.98 351.30,42.43 352.00,42.20 C352.70,41.97 353.17,41.97 354.00,41.60 C354.83,41.23 356.03,40.45 357.00,40.00 C357.97,39.55 358.83,39.20 359.80,38.90 C360.77,38.60 361.80,38.35 362.80,38.20 C363.80,38.05 364.82,37.97 365.80,38.00 C366.78,38.03 367.85,39.03 368.70,38.40 C369.55,37.77 369.93,35.38 370.90,34.20 C371.87,33.02 373.17,31.67 374.50,31.30 C375.83,30.93 377.68,32.37 378.90,32.00 C380.12,31.63 380.70,29.70 381.80,29.10 C382.90,28.50 384.28,29.25 385.50,28.40 C386.72,27.55 387.53,25.33 389.10,24.00 C390.67,22.67 392.97,21.48 394.90,20.40 C396.83,19.32 399.00,18.35 400.70,17.50 C402.40,16.65 403.77,16.03 405.10,15.30 C406.43,14.57 407.73,13.95 408.70,13.10 C409.67,12.25 410.05,10.98 410.90,10.20 C411.75,9.42 412.70,9.02 413.80,8.40 C414.90,7.78 416.53,7.05 417.50,6.50 C418.47,5.95 418.85,5.25 419.60,5.10 C420.35,4.95 421.27,5.38 422.00,5.60 C422.73,5.82 423.18,6.55 424.00,6.40 C424.82,6.25 425.82,5.17 426.90,4.70 C427.98,4.23 429.45,3.52 430.50,3.60 C431.55,3.68 432.42,4.43 433.20,5.20 C433.98,5.97 434.43,7.52 435.20,8.20 C435.97,8.88 436.73,8.95 437.80,9.30 C438.87,9.65 440.53,9.83 441.60,10.30 C442.67,10.77 443.45,12.10 444.20,12.10 C444.95,12.10 445.23,10.77 446.10,10.30 C446.97,9.83 448.38,9.25 449.40,9.30 C450.42,9.35 451.55,9.78 452.20,10.60 C452.85,11.42 452.92,12.95 453.30,14.20 C453.68,15.45 453.87,16.92 454.50,18.10 C455.13,19.28 456.12,20.27 457.10,21.30 C458.08,22.33 459.32,23.85 460.40,24.30 C461.48,24.75 462.63,24.07 463.60,24.00 C464.57,23.93 465.13,23.60 466.20,23.90 C467.27,24.20 468.72,25.05 470.00,25.80 C471.28,26.55 472.60,27.53 473.90,28.40 C475.20,29.27 476.62,30.03 477.80,31.00 C478.98,31.97 479.92,33.27 481.00,34.20 C482.08,35.13 482.90,36.07 484.30,36.60 C485.70,37.13 487.68,37.17 489.40,37.40 C491.12,37.63 492.98,37.58 494.60,38.00 C496.22,38.42 497.72,39.05 499.10,39.90 C500.48,40.75 501.62,42.32 502.90,43.10 C504.18,43.88 505.28,44.48 506.80,44.60 C508.32,44.72 510.27,44.00 512.00,43.80 C513.73,43.60 515.80,43.22 517.20,43.40 C518.60,43.58 519.22,44.63 520.40,44.90 C521.58,45.17 523.00,44.55 524.30,45.00 C525.60,45.45 527.23,46.73 528.20,47.60 C529.17,48.47 529.13,49.25 530.10,50.20 C531.07,51.15 532.70,52.73 534.00,53.30 C535.30,53.87 536.62,53.25 537.90,53.60 C539.18,53.95 540.52,54.57 541.70,55.40 C542.88,56.23 544.23,57.42 545.00,58.60 C545.77,59.78 546.23,61.20 546.30,62.50 C546.37,63.80 545.52,65.22 545.40,66.40 C545.28,67.58 545.50,68.83 545.60,69.60 C545.70,70.37 545.93,70.77 546.00,71.00Z" fill="#000"/>
<circle cx="304" cy="64.3" r="5" fill="#000"/>
<circle cx="311" cy="62.0" r="4.5" fill="#000"/>
<circle cx="320.5" cy="55.3" r="5" fill="#000"/>
<circle cx="330.5" cy="51.9" r="4.5" fill="#000"/>
<circle cx="337" cy="49.3" r="4" fill="#000"/>
<circle cx="346" cy="44.8" r="3.5" fill="#000"/>
<circle cx="355" cy="45.5" r="4" fill="#000"/>
<circle cx="361" cy="43.0" r="4.5" fill="#000"/>
<circle cx="366" cy="42.0" r="4" fill="#000"/>
<circle cx="374.5" cy="35.3" r="4" fill="#000"/>
<circle cx="382" cy="32.5" r="3.5" fill="#000"/>
<circle cx="413.8" cy="11.7" r="3.5" fill="#000"/>
<circle cx="419.6" cy="8.5" r="3.5" fill="#000"/>
<circle cx="430" cy="7.5" r="4" fill="#000"/>
<circle cx="449.2" cy="12.7" r="3.5" fill="#000"/>
<circle cx="466" cy="27.8" r="4" fill="#000"/>
<circle cx="512" cy="47.7" r="4" fill="#000"/>
<circle cx="517.5" cy="47.3" r="4" fill="#000"/>
<circle cx="524.5" cy="48.5" r="3.5" fill="#000"/>
<circle cx="538" cy="58.0" r="4.5" fill="#000"/>
<circle cx="541.5" cy="60.3" r="5" fill="#000"/>
<circle cx="539.3" cy="61.0" r="7.2" fill="#000"/>
<circle cx="509" cy="47.6" r="5" fill="#000"/>
<circle cx="521" cy="47.9" r="4.5" fill="#000"/>
<circle cx="489" cy="41.3" r="4.5" fill="#000"/>
<circle cx="497" cy="42.1" r="4.5" fill="#000"/>
<text x="131.8" y="89.0" font-family="Liberation Serif" font-size="15.6" fill="#111">(<tspan font-weight="bold">a</tspan>)</text>
<text x="412.8" y="89.0" font-family="Liberation Serif" font-size="15.6" fill="#111">(<tspan font-weight="bold">b</tspan>)</text>
<text x="265.9" y="380.3" font-family="Liberation Serif" font-size="15.5" fill="#111">(<tspan font-weight="bold">c</tspan>)</text>
<rect x="44.19" y="108.58" width="476.11" height="238.16" fill="#fff"/>
<g stroke="#e2e2e2" stroke-width="0.8">
<line x1="71.40" y1="108.58" x2="71.40" y2="346.74"/>
<line x1="139.42" y1="108.58" x2="139.42" y2="346.74"/>
<line x1="207.43" y1="108.58" x2="207.43" y2="346.74"/>
<line x1="275.45" y1="108.58" x2="275.45" y2="346.74"/>
<line x1="343.46" y1="108.58" x2="343.46" y2="346.74"/>
<line x1="411.48" y1="108.58" x2="411.48" y2="346.74"/>
<line x1="479.49" y1="108.58" x2="479.49" y2="346.74"/>
<line x1="44.19" y1="145.22" x2="520.30" y2="145.22"/>
<line x1="44.19" y1="181.86" x2="520.30" y2="181.86"/>
<line x1="44.19" y1="218.50" x2="520.30" y2="218.50"/>
<line x1="44.19" y1="255.14" x2="520.30" y2="255.14"/>
<line x1="44.19" y1="291.78" x2="520.30" y2="291.78"/>
<line x1="44.19" y1="328.42" x2="520.30" y2="328.42"/>
</g>
<defs><clipPath id="axclip"><rect x="44.19" y="108.58" width="476.11" height="238.16"/></clipPath></defs>
<g clip-path="url(#axclip)" fill="none" stroke-linecap="butt" stroke-linejoin="round">
<line x1="44.19" y1="331.35" x2="520.30" y2="87.70" stroke="#2cdcd6" stroke-width="2.1" stroke-dasharray="6.2 7.29"/>
<line x1="44.19" y1="111.55" x2="520.30" y2="344.94" stroke="#e2b22a" stroke-width="2.1" stroke-dasharray="6.2 7.29"/>
<polyline points="49.0,318.6 52.0,318.4 55.0,320.0 58.0,320.4 60.0,319.0 62.0,316.0 65.0,313.0 69.0,312.0 73.0,312.4 76.0,310.0 79.0,308.4 82.0,308.0 86.0,307.0 90.0,304.0 94.0,301.0 97.0,300.0 100.0,301.0 103.0,304.0 106.0,304.4 108.0,305.0 111.0,303.0 114.0,301.0 118.0,299.0 122.0,296.0 126.0,293.6 130.0,292.4 133.0,293.6 136.0,292.0 140.0,291.6 143.0,293.0 145.0,294.0 145.3,290.0 145.8,286.0 147.0,281.0 150.0,279.4 153.8,279.4 159.3,279.8 162.5,276.5 165.8,274.4 169.1,272.2 171.3,273.3 173.5,274.4 176.7,270.0 180.0,264.5 184.4,262.4 187.6,259.7 190.9,256.9 195.3,254.7 199.6,253.2 204.0,251.0 208.4,249.3 210.5,246.0 212.7,243.2 216.0,242.7 219.3,240.5 221.5,238.4 223.6,235.1 226.9,231.8 230.2,230.1 233.5,230.0 236.7,227.0 240.0,222.0 243.3,221.4 246.6,222.7 249.8,225.3 252.0,223.1 255.3,220.5 259.1,218.6" stroke="#dc0a12" stroke-width="2.3"/>
<polyline points="276.4,218.3 280.0,219.5 282.7,221.4 284.5,224.1 285.5,227.7 286.4,229.5 288.2,230.1 291.8,229.5 295.5,230.5 298.2,232.3 300.9,235.0 303.6,237.7 305.5,236.8 308.2,233.2 311.8,230.2 314.5,229.6 318.3,231.4 320.3,234.5 321.4,240.7 321.6,245.8 323.4,250.0 326.5,254.1 329.6,258.3 332.7,262.4 335.8,264.0 339.0,265.9 342.0,263.4 345.2,262.0 349.3,262.4 352.4,263.4 355.5,266.5 358.6,269.6 361.7,272.1 365.8,273.4 368.9,275.8 372.0,280.4 376.2,283.1 379.3,286.2 382.4,289.3 386.5,291.3 390.6,290.3 394.8,290.7 398.9,292.0 403.0,292.4 408.7,294.2 413.1,297.5 417.5,301.8 421.8,305.7 426.2,307.9 429.5,305.7 433.8,304.7 438.2,304.0 442.5,302.9 446.9,302.5 451.3,304.0 454.5,307.9 456.7,306.6 461.1,306.2 465.5,307.3 468.7,310.5 470.9,314.9 473.1,318.6 476.4,321.5 479.6,324.7 481.8,326.3 486.2,325.8 490.6,326.5 493.8,328.0 497.1,331.3 500.4,335.6 502.6,338.9 504.3,341.5" stroke="#0a0ad0" stroke-width="2.1"/>
</g>
<g stroke="#3a3a3a" stroke-width="1.15" fill="none">
<rect x="44.5" y="108.8" width="475.6" height="237.6"/>
<line x1="71.40" y1="346.74" x2="71.40" y2="341.74"/>
<line x1="71.40" y1="108.58" x2="71.40" y2="113.58"/>
<line x1="139.42" y1="346.74" x2="139.42" y2="341.74"/>
<line x1="139.42" y1="108.58" x2="139.42" y2="113.58"/>
<line x1="207.43" y1="346.74" x2="207.43" y2="341.74"/>
<line x1="207.43" y1="108.58" x2="207.43" y2="113.58"/>
<line x1="275.45" y1="346.74" x2="275.45" y2="341.74"/>
<line x1="275.45" y1="108.58" x2="275.45" y2="113.58"/>
<line x1="343.46" y1="346.74" x2="343.46" y2="341.74"/>
<line x1="343.46" y1="108.58" x2="343.46" y2="113.58"/>
<line x1="411.48" y1="346.74" x2="411.48" y2="341.74"/>
<line x1="411.48" y1="108.58" x2="411.48" y2="113.58"/>
<line x1="479.49" y1="346.74" x2="479.49" y2="341.74"/>
<line x1="479.49" y1="108.58" x2="479.49" y2="113.58"/>
<line x1="44.19" y1="108.58" x2="49.19" y2="108.58"/>
<line x1="520.30" y1="108.58" x2="515.30" y2="108.58"/>
<line x1="44.19" y1="145.22" x2="49.19" y2="145.22"/>
<line x1="520.30" y1="145.22" x2="515.30" y2="145.22"/>
<line x1="44.19" y1="181.86" x2="49.19" y2="181.86"/>
<line x1="520.30" y1="181.86" x2="515.30" y2="181.86"/>
<line x1="44.19" y1="218.50" x2="49.19" y2="218.50"/>
<line x1="520.30" y1="218.50" x2="515.30" y2="218.50"/>
<line x1="44.19" y1="255.14" x2="49.19" y2="255.14"/>
<line x1="520.30" y1="255.14" x2="515.30" y2="255.14"/>
<line x1="44.19" y1="291.78" x2="49.19" y2="291.78"/>
<line x1="520.30" y1="291.78" x2="515.30" y2="291.78"/>
<line x1="44.19" y1="328.42" x2="49.19" y2="328.42"/>
<line x1="520.30" y1="328.42" x2="515.30" y2="328.42"/>
</g>
<g font-family="Liberation Serif" font-size="13.3" fill="#222" stroke="#222" stroke-width="0.12">
<text transform="translate(72.00 362.6) scale(0.95 1.04)" text-anchor="middle">500</text>
<text transform="translate(140.02 362.6) scale(0.95 1.04)" text-anchor="middle">1000</text>
<text transform="translate(208.03 362.6) scale(0.95 1.04)" text-anchor="middle">1500</text>
<text transform="translate(276.05 362.6) scale(0.95 1.04)" text-anchor="middle">2000</text>
<text transform="translate(344.06 362.6) scale(0.95 1.04)" text-anchor="middle">2500</text>
<text transform="translate(412.08 362.6) scale(0.95 1.04)" text-anchor="middle">3000</text>
<text transform="translate(480.09 362.6) scale(0.95 1.04)" text-anchor="middle">3500</text>
<text transform="translate(41.1 113.53) scale(0.97 1.06)" text-anchor="end">-600</text>
<text transform="translate(41.1 150.17) scale(0.97 1.06)" text-anchor="end">-400</text>
<text transform="translate(41.1 186.81) scale(0.97 1.06)" text-anchor="end">-200</text>
<text transform="translate(41.1 223.45) scale(0.97 1.06)" text-anchor="end">0</text>
<text transform="translate(41.1 260.09) scale(0.97 1.06)" text-anchor="end">200</text>
<text transform="translate(41.1 296.73) scale(0.97 1.06)" text-anchor="end">400</text>
<text transform="translate(41.1 333.37) scale(0.97 1.06)" text-anchor="end">600</text>
</g>
<rect x="306.5" y="116.5" width="203.7" height="59.1" fill="#fff" stroke="#3a3a3a" stroke-width="1.1"/>
<line x1="308.4" y1="124.6" x2="320.6" y2="124.6" stroke="#dc0a12" stroke-width="2.4"/>
<text transform="translate(322.2 129.3) scale(1 1.11)" font-family="Liberation Serif" font-size="12.8" fill="#1a1a1a" stroke="#1a1a1a" stroke-width="0.12">Left contour boundary line</text>
<line x1="309" y1="139.0" x2="315" y2="139.0" stroke="#2cdcd6" stroke-width="2.4"/>
<text transform="translate(322.2 143.7) scale(1 1.11)" font-family="Liberation Serif" font-size="12.8" fill="#1a1a1a" stroke="#1a1a1a" stroke-width="0.12">Fit line(left)  y = - 0.38*x + 7.3e+02</text>
<line x1="308.4" y1="153.6" x2="320.6" y2="153.6" stroke="#0a0ad0" stroke-width="2.4"/>
<text transform="translate(322.2 158.3) scale(1 1.11)" font-family="Liberation Serif" font-size="12.8" fill="#1a1a1a" stroke="#1a1a1a" stroke-width="0.12">Right side contour boundary</text>
<line x1="309" y1="168.1" x2="315" y2="168.1" stroke="#e2b22a" stroke-width="2.4"/>
<text transform="translate(322.2 172.8) scale(1 1.11)" font-family="Liberation Serif" font-size="12.8" fill="#1a1a1a" stroke="#1a1a1a" stroke-width="0.12">Fit line(right) y = 0.364*x + 26</text>
</svg>
</body></html>
